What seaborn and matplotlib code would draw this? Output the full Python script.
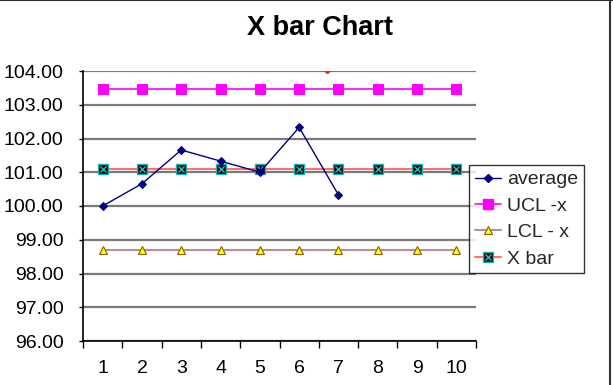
import matplotlib
matplotlib.use("Agg")
import matplotlib.pyplot as plt
import seaborn as sns
import pandas as pd
from matplotlib.legend_handler import HandlerTuple
from matplotlib.lines import Line2D

samples = [1, 2, 3, 4, 5, 6, 7, 8, 9, 10]
average = [100.00, 100.66, 101.66, 101.33, 101.00, 102.33, 100.33]
ucl_x = [103.48] * 10
lcl_x = [98.69] * 10
x_bar = [101.09] * 10
stray_point = ([6.7], [104.0])

sns.set_theme(style="white")
plt.rcParams["font.family"] = ["Liberation Sans", "DejaVu Sans"]

fig = plt.figure(figsize=(6.13, 3.85), dpi=100)
ax = fig.add_axes([83 / 613, 1 - 341 / 385, (476 - 83) / 613, (341 - 71) / 385])

df_avg = pd.DataFrame({"sample": samples[:len(average)], "value": average})
df_ucl = pd.DataFrame({"sample": samples, "value": ucl_x})
df_lcl = pd.DataFrame({"sample": samples, "value": lcl_x})
df_xb = pd.DataFrame({"sample": samples, "value": x_bar})

# gridlines
for v in range(96, 105):
    ax.axhline(v, color="#7a7a7a", lw=1.6, zorder=0)

sns.lineplot(data=df_ucl, x="sample", y="value", ax=ax, color="#FF00FF", lw=1.2,
             marker="s", markersize=7, markerfacecolor="#FF00FF",
             markeredgecolor="#FF00FF", zorder=3)
sns.lineplot(data=df_lcl, x="sample", y="value", ax=ax, color="#B89090", lw=1.5,
             marker="^", markersize=6, markerfacecolor="#FFFF00",
             markeredgecolor="#806000", markeredgewidth=0.8, zorder=3)
sns.lineplot(data=df_xb, x="sample", y="value", ax=ax, color="#FF7070", lw=1.5,
             marker="s", markersize=6.5, markerfacecolor="#101010",
             markeredgecolor="#20B0B0", markeredgewidth=1.0, zorder=3)
ax.plot(samples, x_bar, linestyle="none", marker="x", markersize=4.5,
        color="#30C0C0", markeredgewidth=0.9, zorder=4)
sns.lineplot(data=df_avg, x="sample", y="value", ax=ax, color="#000080", lw=1.0,
             marker="D", markersize=4.5, markerfacecolor="#000080",
             markeredgecolor="#000080", zorder=5)
ax.plot(stray_point[0], stray_point[1], linestyle="none", marker="o",
        markersize=2.5, color="#FF2020", zorder=6)

ax.set_xlim(0.5, 10.5)
ax.set_ylim(96, 104)
ax.set_xlabel("")
ax.set_ylabel("")

ax.set_xticks([i + 0.5 for i in range(0, 11)])
ax.set_xticklabels([])
ax.set_xticks(samples, minor=True)
ax.set_xticklabels([str(s) for s in samples], minor=True, fontsize=14)
ax.tick_params(axis="x", which="major", direction="out", length=5, width=1,
               color="black", bottom=True)
ax.tick_params(axis="x", which="minor", length=0, pad=13.5, colors="black")
ax.set_yticks(range(96, 105))
ax.set_yticklabels([f"{v:.2f}" for v in range(96, 105)], fontsize=14)
ax.tick_params(axis="y", direction="out", length=3, width=1, color="black",
               left=True, pad=11, labelcolor="black")

for s in ["top", "right"]:
    ax.spines[s].set_visible(False)
ax.spines["left"].set_color("black")
ax.spines["bottom"].set_color("black")
ax.spines["left"].set_linewidth(1.2)
ax.spines["bottom"].set_linewidth(1.2)

fig.text(320 / 613, 1 - 28 / 385, "X bar Chart", ha="center", va="center",
         fontsize=19.5, fontweight="bold", color="black")

h_avg = Line2D([], [], color="#000080", lw=1.0, marker="D", markersize=4.5)
h_ucl = Line2D([], [], color="#FF00FF", lw=1.2, marker="s", markersize=7)
h_lcl = Line2D([], [], color="#B89090", lw=1.5, marker="^", markersize=6,
               markerfacecolor="#FFFF00", markeredgecolor="#806000",
               markeredgewidth=0.8)
h_xb1 = Line2D([], [], color="#FF7070", lw=1.5, marker="s", markersize=6.5,
               markerfacecolor="#101010", markeredgecolor="#20B0B0")
h_xb2 = Line2D([], [], linestyle="none", marker="x", markersize=4.5,
               color="#30C0C0", markeredgewidth=0.9)
leg = fig.legend([h_avg, h_ucl, h_lcl, (h_xb1, h_xb2)],
                 ["average", "UCL -x", "LCL - x", "X bar"],
                 handler_map={tuple: HandlerTuple(ndivide=1, pad=0)},
                 loc="upper left", bbox_to_anchor=(469 / 613, 1 - 165 / 385),
                 frameon=True, fancybox=False, fontsize=14,
                 handlelength=1.35, handletextpad=0.3, borderpad=0.3,
                 labelspacing=0.45, borderaxespad=0)
leg.get_frame().set_edgecolor("black")
leg.get_frame().set_linewidth(1.0)

# figure border (top and right)
fig.add_artist(Line2D([0, 1], [0.999, 0.999], transform=fig.transFigure,
                      color="#303030", lw=1.5))
fig.add_artist(Line2D([610 / 613, 610 / 613], [0, 1], transform=fig.transFigure,
                      color="#303030", lw=1.5))

fig.savefig("out.png", dpi=100)
